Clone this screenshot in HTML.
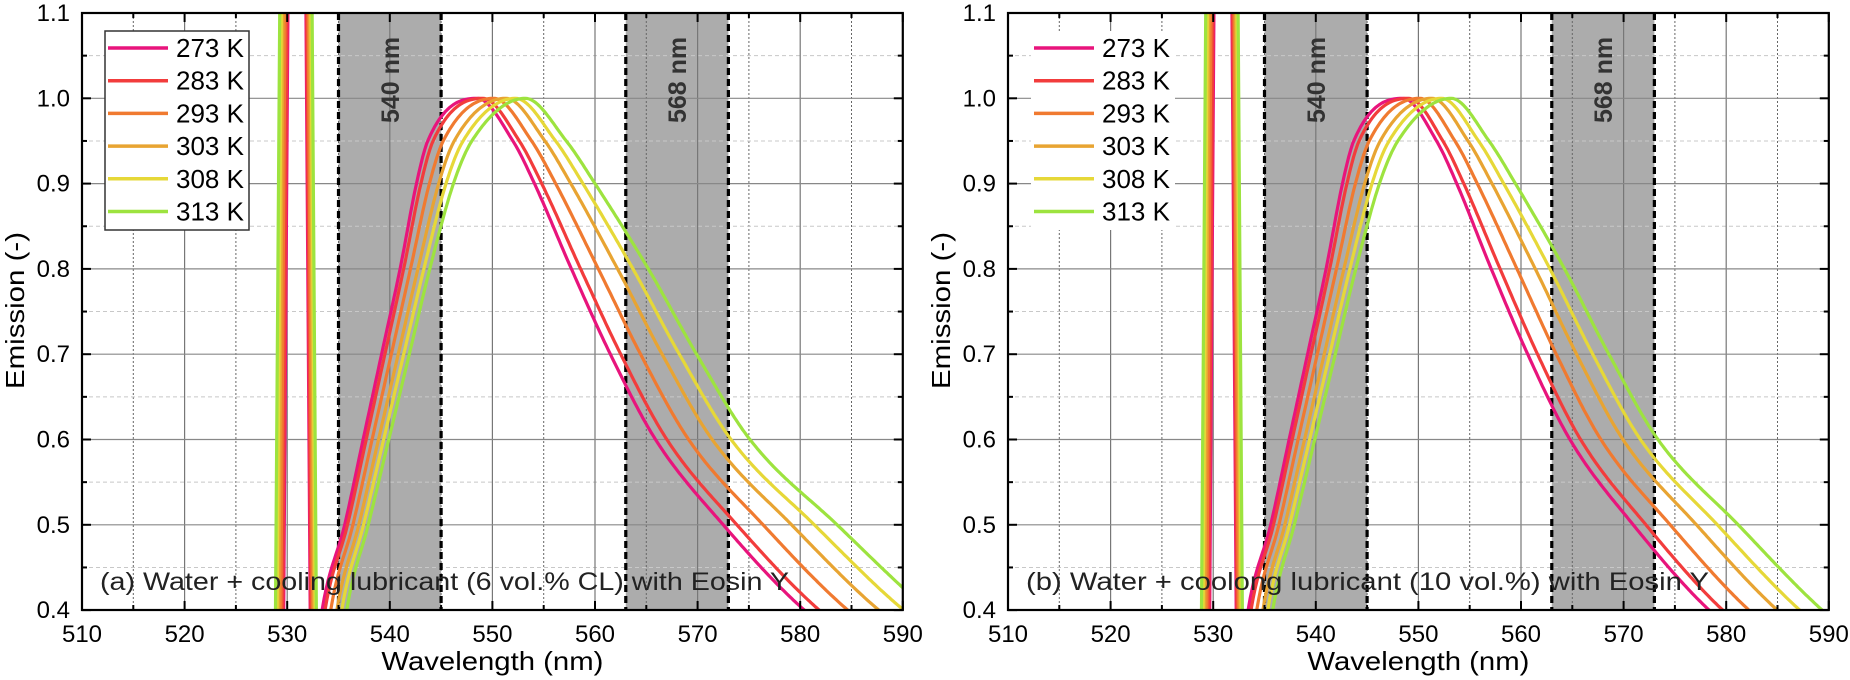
<!DOCTYPE html>
<html><head><meta charset="utf-8">
<style>
html,body{margin:0;padding:0;background:#fff;}
svg{display:block;font-family:"Liberation Sans",Arial,sans-serif;}
</style></head>
<body>
<svg id="s" width="1850" height="680" viewBox="0 0 1850 680" xmlns="http://www.w3.org/2000/svg"></svg>
<script>
const S=document.getElementById('s');
let out='';
const cols=['#e8147c','#f23c3c','#f07a30','#e8a432','#e6d838','#9de33f'];
const temps=['273 K','283 K','293 K','303 K','308 K','313 K'];
const sv=[0,0.12,0.35,0.6,0.8,1];
const lv=[0.3,0.4,0.5,0.6,0.7,0.8,0.9,0.95];
const pL=[532.4,533.4,535.6,537.4,539.2,541.0,542.6,543.7];
const gL=[534.8,535.8,537.9,539.9,541.9,543.9,546.2,548.0];
const pR=[592,580.4,572.5,565.9,561.5,557.7,554.1,552.0];
const gR=[604,592.5,583.6,575.1,569.9,565.2,560.0,557.2];
function mono(xs,ys,d0,d1){
  const n=xs.length,h=[],dl=[],m=[];
  for(let i=0;i<n-1;i++){h[i]=xs[i+1]-xs[i];dl[i]=(ys[i+1]-ys[i])/h[i];}
  m[0]=dl[0];m[n-1]=dl[n-2];
  for(let i=1;i<n-1;i++){m[i]=(dl[i-1]*dl[i]<=0)?0:(dl[i-1]+dl[i])/2;}
  if(d0!==null)m[0]=d0; if(d1!==null)m[n-1]=d1;
  for(let i=0;i<n-1;i++){if(dl[i]===0){m[i]=m[i+1]=0;continue;}
    const a=m[i]/dl[i],b=m[i+1]/dl[i],s=a*a+b*b; if(s>9){const t=3/Math.sqrt(s);m[i]=t*a*dl[i];m[i+1]=t*b*dl[i];}}
  return x=>{let i=0;while(i<n-2&&x>xs[i+1])i++;const t=(x-xs[i])/h[i],t2=t*t,t3=t2*t;
    return (2*t3-3*t2+1)*ys[i]+(t3-2*t2+t)*h[i]*m[i]+(-2*t3+3*t2)*ys[i+1]+(t3-t2)*h[i]*m[i+1];};
}
function panel(ox,id,text,legendBorder,kb,tlen){
  const W=820.8;
  const X=n=>ox+(n-510)*W/80;
  const Y=v=>13+(1.1-v)*853;
  const top=13,bot=610,L=ox,R=ox+W;
  out+=`<rect x="${X(535)}" y="${top}" width="${X(545)-X(535)}" height="${bot-top}" fill="#acacac"/>`;
  out+=`<rect x="${X(563)}" y="${top}" width="${X(573)-X(563)}" height="${bot-top}" fill="#acacac"/>`;
  for(let n=515;n<590;n+=10) out+=`<line x1="${X(n)}" y1="${top}" x2="${X(n)}" y2="${bot}" stroke="#666" stroke-width="1" stroke-dasharray="2,2"/>`;
  for(let v=0.45;v<1.1;v+=0.1) out+=`<line x1="${L}" y1="${Y(v)}" x2="${R}" y2="${Y(v)}" stroke="#c8c8c8" stroke-width="1" stroke-dasharray="4,3"/>`;
  for(let n=520;n<590;n+=10) out+=`<line x1="${X(n)}" y1="${top}" x2="${X(n)}" y2="${bot}" stroke="#777" stroke-width="1.2"/>`;
  for(let v=0.5;v<1.05;v+=0.1) out+=`<line x1="${L}" y1="${Y(v)}" x2="${R}" y2="${Y(v)}" stroke="#888" stroke-width="1.2"/>`;
  [535,545,563,573].forEach(n=>out+=`<line x1="${X(n)}" y1="${top}" x2="${X(n)}" y2="${bot}" stroke="#000" stroke-width="3.2" stroke-dasharray="7,4"/>`);
  [[540,'540 nm'],[568,'568 nm']].forEach(a=>out+=`<text transform="translate(${X(a[0])+9},123) rotate(-90)" font-size="25" font-weight="bold" fill="#333">${a[1]}</text>`);
  out+=`<clipPath id="c${id}"><rect x="${L}" y="${top}" width="${W}" height="${bot-top}"/></clipPath><g clip-path="url(#c${id})" fill="none" stroke-width="3.2" stroke-linejoin="round">`;
  for(let c=0;c<6;c++){
    const s=sv[c];
    const k=kb?(0.935-0.015*s):1;
    const peak=548.5+s*4.7;
    const lb=529.6-s*0.8, lt=530.1-s*0.8, rt=531.8+s*0.6, rb=532.3+s*0.6;
    const lx=[],ly=[],rx=[peak],ry=[1];
    for(let i=0;i<lv.length;i++){lx.push(pL[i]+(gL[i]-pL[i])*s);ly.push(lv[i]);}
    lx.push(peak);ly.push(1);
    for(let i=lv.length-1;i>=0;i--){let x=pR[i]+(gR[i]-pR[i])*s;x=peak+(x-peak)*k;rx.push(x);ry.push(lv[i]);}
    const fl=mono(lx,ly,null,0), fr=mono(rx,ry,0,null);
    let d=`M${X(lb)},${Y(0.3)} L${X(lt)},${Y(1.15)} L${X(rt)},${Y(1.15)} L${X(rb)},${Y(0.3)}`;
    for(let x=lx[0];x<peak;x+=0.2) d+=` L${X(x).toFixed(1)},${Y(fl(x)).toFixed(1)}`;
    for(let x=peak;x<=rx[rx.length-1];x+=0.2) d+=` L${X(x).toFixed(1)},${Y(fr(x)).toFixed(1)}`;
    out+=`<path d="${d}" stroke="${cols[c]}"/>`;
  }
  out+=`</g>`;
  out+=`<rect x="${L}" y="${top}" width="${W}" height="${bot-top}" fill="none" stroke="#000" stroke-width="2.2"/>`;
  for(let n=510;n<=590;n+=5){const mj=n%10==0,l=mj?9:5;
    out+=`<line x1="${X(n)}" y1="${bot}" x2="${X(n)}" y2="${bot-l}" stroke="#000" stroke-width="2"/><line x1="${X(n)}" y1="${top}" x2="${X(n)}" y2="${top+l}" stroke="#000" stroke-width="2"/>`;
    if(mj) out+=`<text x="${X(n)}" y="642" font-size="24" text-anchor="middle" fill="#000">${n}</text>`;}
  for(let i=0;i<=14;i++){const v=0.4+i*0.05,mj=i%2==0,l=mj?9:5;
    out+=`<line x1="${L}" y1="${Y(v)}" x2="${L+l}" y2="${Y(v)}" stroke="#000" stroke-width="2"/><line x1="${R}" y1="${Y(v)}" x2="${R-l}" y2="${Y(v)}" stroke="#000" stroke-width="2"/>`;
    if(mj) out+=`<text x="${L-12}" y="${Y(v)+8}" font-size="24" text-anchor="end" fill="#000">${v.toFixed(1)}</text>`;}
  out+=`<text x="${(L+R)/2-111}" y="670" font-size="26" textLength="222" lengthAdjust="spacingAndGlyphs">Wavelength (nm)</text>`;
  out+=`<text transform="translate(${L-58},${311+78}) rotate(-90)" font-size="26" textLength="157" lengthAdjust="spacingAndGlyphs">Emission (-)</text>`;
  out+=`<text x="${L+18}" y="590" font-size="25" fill="#222" textLength="${tlen}" lengthAdjust="spacingAndGlyphs">${text}</text>`;
  const lx=L+23;
  out+=`<rect x="${lx}" y="31" width="144" height="199" fill="#fff" ${legendBorder?'stroke="#333" stroke-width="1.5"':''}/>`;
  for(let c=0;c<6;c++){const y=48+c*32.7;
    out+=`<line x1="${lx+3}" y1="${y}" x2="${lx+63}" y2="${y}" stroke="${cols[c]}" stroke-width="3.5"/>`;
    out+=`<text x="${lx+71}" y="${y+9}" font-size="26" fill="#000">${temps[c]}</text>`;}
}
panel(82,'a','(a) Water + cooling lubricant (6 vol.% CL) with Eosin Y',true,false,689);
panel(1008,'b','(b) Water + coolong lubricant (10 vol.%) with Eosin Y',false,true,683);
S.innerHTML=out;
</script>
</body></html>
